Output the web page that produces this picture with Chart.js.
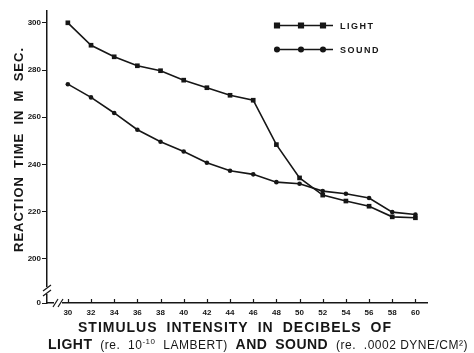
<!DOCTYPE html>
<html>
<head>
<meta charset="utf-8">
<script src="https://cdn.jsdelivr.net/npm/chart.js@4.4.1/dist/chart.umd.min.js"></script>
<style>
  html, body { margin: 0; padding: 0; background: #fff; }
  canvas { display: block; }
</style>
</head>
<body>
<canvas id="rt" width="474" height="353"></canvas>
<script>
// stimulus intensity (dB) and reaction times (msec)
const intensity = [30, 32, 34, 36, 38, 40, 42, 44, 46, 48, 50, 52, 54, 56, 58, 60];
const lightRT = [300, 290.5, 285.6, 281.8, 279.7, 275.7, 272.5, 269.3, 267.2, 248.4, 234.3, 227, 224.5, 222.3, 217.8, 217.4];
const soundRT = [274, 268.4, 261.8, 254.7, 249.6, 245.5, 240.7, 237.3, 235.8, 232.5, 231.8, 228.7, 227.6, 225.8, 219.8, 218.8];
const yTicks = [200, 220, 240, 260, 280, 300];
const xTicks = [30, 32, 34, 36, 38, 40, 42, 44, 46, 48, 50, 52, 54, 56, 58, 60];
const Y_MIN = 181.3;  // bottom of the broken axis, labelled "0"

const ink = '#161616';
const fam = '"Liberation Sans", Arial, sans-serif';

// spread words evenly between x0 and x1 (on the current baseline)
// parts with join:true stick to the previous part (no gap)
function drawSpread(ctx, parts, x0, x1, y) {
  let total = 0, gaps = 0;
  parts.forEach((p, i) => {
    ctx.font = p.font;
    total += ctx.measureText(p.text).width;
    if (i > 0 && !p.join) gaps++;
  });
  const gap = gaps ? (x1 - x0 - total) / gaps : 0;
  let x = x0;
  parts.forEach((p, i) => {
    if (i > 0 && !p.join) x += gap;
    ctx.font = p.font;
    ctx.fillText(p.text, x, y + (p.dy || 0));
    x += ctx.measureText(p.text).width;
  });
}

const extras = {
  id: 'extras',
  afterDraw(chart) {
    const ctx = chart.ctx;
    const ca = chart.chartArea;
    const xs = chart.scales.x;
    ctx.save();
    ctx.fillStyle = ink;
    ctx.strokeStyle = ink;
    ctx.textBaseline = 'alphabetic';
    ctx.textAlign = 'left';

    // x tick marks point up into the plot
    ctx.lineWidth = 1.2;
    ctx.beginPath();
    xTicks.forEach(v => {
      const px = Math.round(xs.getPixelForValue(v)) + 0.5;
      ctx.moveTo(px, ca.bottom); ctx.lineTo(px, ca.bottom - 4);
    });
    ctx.stroke();

    // axis break on y axis
    ctx.fillStyle = '#fff';
    ctx.fillRect(ca.left - 3, 287, 6, 7);
    ctx.fillStyle = ink;
    ctx.beginPath();
    ctx.moveTo(ca.left - 4, 291); ctx.lineTo(ca.left + 4, 285);
    ctx.moveTo(ca.left - 4, 296); ctx.lineTo(ca.left + 4, 290);
    ctx.stroke();
    // axis break on x axis
    ctx.fillStyle = '#fff';
    ctx.fillRect(54, ca.bottom - 3, 8, 6);
    ctx.fillStyle = ink;
    ctx.beginPath();
    ctx.moveTo(53, ca.bottom + 4); ctx.lineTo(58, ca.bottom - 4);
    ctx.moveTo(58, ca.bottom + 4); ctx.lineTo(63, ca.bottom - 4);
    ctx.stroke();

    // legend
    const sets = chart.data.datasets;
    const rows = [{ y: 25.5, ds: sets[0], label: 'LIGHT' }, { y: 49.5, ds: sets[1], label: 'SOUND' }];
    rows.forEach(r => {
      ctx.lineWidth = 1.5;
      ctx.beginPath();
      ctx.moveTo(277, r.y); ctx.lineTo(333, r.y);
      ctx.stroke();
      [277, 301, 323].forEach(px => {
        Chart.helpers.drawPoint(ctx, { pointStyle: r.ds.pointStyle, radius: r.ds.pointRadius, rotation: 0, borderWidth: 1 }, px, r.y);
        ctx.fill();
      });
      ctx.font = 'bold 9px ' + fam;
      ctx.letterSpacing = '1.5px';
      ctx.fillText(r.label, 340, r.y + 3.5);
      ctx.letterSpacing = '0px';
    });

    // y axis title (rotated)
    ctx.save();
    ctx.translate(23, 0);
    ctx.rotate(-Math.PI / 2);
    ctx.letterSpacing = '1px';
    const yf = 'bold 13px ' + fam;
    drawSpread(ctx, ['REACTION', 'TIME', 'IN', 'M', 'SEC.'].map(t => ({ text: t, font: yf })), -252, -47, 0);
    ctx.restore();

    // x axis title
    ctx.letterSpacing = '1px';
    const bf = 'bold 14px ' + fam;
    const rf = '12px ' + fam;
    drawSpread(ctx, ['STIMULUS', 'INTENSITY', 'IN', 'DECIBELS', 'OF'].map(t => ({ text: t, font: bf })), 78, 392, 332);
    ctx.letterSpacing = '0.5px';
    drawSpread(ctx, [
      { text: 'LIGHT', font: bf },
      { text: '(re.', font: rf },
      { text: '10', font: rf },
      { text: '-10', font: '8px ' + fam, dy: -5, join: true },
      { text: 'LAMBERT)', font: rf },
      { text: 'AND', font: bf },
      { text: 'SOUND', font: bf },
      { text: '(re.', font: rf },
      { text: '.0002 DYNE/CM\u00B2)', font: rf }
    ], 48, 468, 349);
    ctx.restore();
  }
};

new Chart(document.getElementById('rt'), {
  type: 'line',
  data: {
    datasets: [
      {
        label: 'LIGHT',
        data: intensity.map((x, i) => ({ x: x, y: lightRT[i] })),
        borderColor: ink,
        backgroundColor: ink,
        borderWidth: 1.6,
        pointStyle: 'rect',
        pointRadius: 3.3,
        pointBorderWidth: 0,
        tension: 0
      },
      {
        label: 'SOUND',
        data: intensity.map((x, i) => ({ x: x, y: soundRT[i] })),
        borderColor: ink,
        backgroundColor: ink,
        borderWidth: 1.6,
        pointStyle: 'circle',
        pointRadius: 2.3,
        pointBorderWidth: 0,
        tension: 0
      }
    ]
  },
  options: {
    responsive: false,
    animation: false,
    events: [],
    layout: { padding: { left: 6, top: 11, right: 47, bottom: 0 } },
    plugins: { legend: { display: false }, tooltip: { enabled: false } },
    scales: {
      x: {
        type: 'linear',
        min: 28.2,
        max: 61,
        afterBuildTicks: s => { s.ticks = xTicks.map(v => ({ value: v })); },
        afterFit: s => { s.height = 50; },
        border: { display: true, color: ink, width: 1.5 },
        grid: { display: false, drawOnChartArea: false, tickLength: 3 },
        ticks: { color: ink, font: { family: fam, size: 8, weight: 'bold' }, padding: 2, maxRotation: 0 }
      },
      y: {
        type: 'linear',
        min: Y_MIN,
        max: 305,
        afterBuildTicks: s => { s.ticks = [Y_MIN].concat(yTicks).map(v => ({ value: v })); },
        afterFit: s => { s.width = 41; },
        border: { display: true, color: ink, width: 1.5 },
        grid: { drawOnChartArea: false, color: ink, tickLength: 5 },
        ticks: {
          color: ink,
          font: { family: fam, size: 8, weight: 'bold' },
          padding: 1,
          callback: v => (v === Y_MIN ? '0' : String(v))
        }
      }
    }
  },
  plugins: [extras]
});
</script>
</body>
</html>
